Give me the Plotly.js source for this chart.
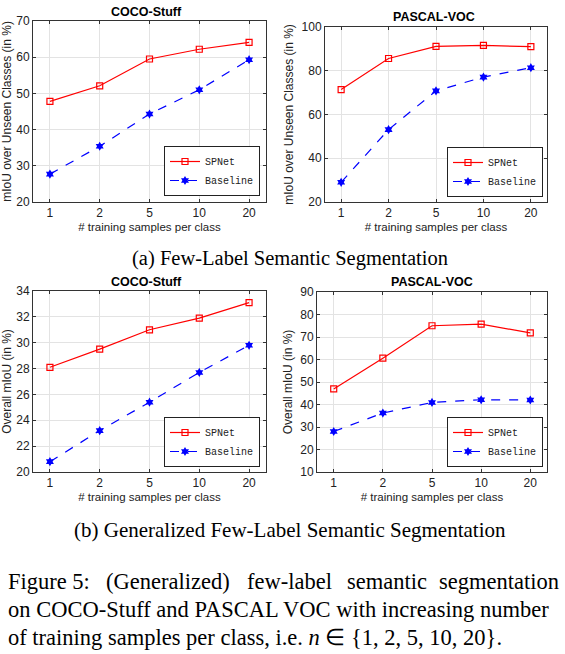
<!DOCTYPE html>
<html>
<head>
<meta charset="utf-8">
<script src="https://cdn.plot.ly/plotly-3.0.1.min.js"></script>
<style>
  body { margin: 0; background: #fff; }
  #plot { width: 565px; height: 654px; }
</style>
</head>
<body>
<div id="plot"></div>
<script>
// training samples per class
const samples = ['1', '2', '5', '10', '20']

// (a) mIoU over unseen classes
const cocoUnseenSPNet = [47.8, 52.1, 59.5, 62.2, 64.1]
const cocoUnseenBase = [27.7, 35.4, 44.3, 51.0, 59.3]
const vocUnseenSPNet = [71.4, 85.6, 91.1, 91.6, 91.0]
const vocUnseenBase = [29.0, 53.1, 70.8, 77.1, 81.4]

// (b) overall mIoU
const cocoAllSPNet = [28.1, 29.5, 31.0, 31.9, 33.1]
const cocoAllBase = [20.8, 23.2, 25.4, 27.7, 29.8]
const vocAllSPNet = [46.9, 60.6, 75.0, 75.7, 71.8]
const vocAllBase = [28.0, 36.2, 40.9, 42.1, 42.0]

const W = 565, H = 654
const px = v => v / W
const py = v => 1 - v / H

const sans = 'Liberation Sans, Arial, sans-serif'
const serif = 'Liberation Serif, Times New Roman, serif'
const mono = 'Liberation Mono, Courier New, monospace'

function pair (spnet, base, n) {
  const sfx = n === 1 ? '' : String(n)
  return [
    {
      x: samples, y: spnet, name: 'SPNet', type: 'scatter', mode: 'lines+markers',
      xaxis: 'x' + sfx, yaxis: 'y' + sfx, legend: 'legend' + sfx,
      line: { color: '#ff0000', width: 1.2 },
      marker: { symbol: 'square-open', size: 6, color: '#ff0000', line: { width: 1.2 } }
    },
    {
      x: samples, y: base, name: 'Baseline', type: 'scatter', mode: 'lines+markers',
      xaxis: 'x' + sfx, yaxis: 'y' + sfx, legend: 'legend' + sfx,
      line: { color: '#0000ff', width: 1.2, dash: 'dash' },
      marker: { symbol: 'hexagram', size: 7, color: '#0000ff' }
    }
  ]
}

const data = [
  ...pair(cocoUnseenSPNet, cocoUnseenBase, 1),
  ...pair(vocUnseenSPNet, vocUnseenBase, 2),
  ...pair(cocoAllSPNet, cocoAllBase, 3),
  ...pair(vocAllSPNet, vocAllBase, 4)
]

function xax (x0, x1, anchor) {
  return {
    domain: [px(x0), px(x1)], anchor: anchor, type: 'category',
    range: [-0.34, 4.34], showgrid: true, gridcolor: '#e3e3e3',
    showline: true, linecolor: '#333', linewidth: 1, mirror: 'ticks',
    ticks: 'inside', ticklen: 3, tickcolor: '#333',
    tickfont: { family: sans, size: 12, color: '#222' },
    title: { text: '# training samples per class', font: { family: sans, size: 11.5, color: '#222' }, standoff: 3 }
  }
}

function yax (y0, y1, anchor, range, dtick, title) {
  return {
    domain: [py(y1), py(y0)], anchor: anchor,
    range: range, dtick: dtick, showgrid: true, gridcolor: '#e3e3e3', zeroline: false,
    showline: true, linecolor: '#333', linewidth: 1, mirror: 'ticks',
    ticks: 'inside', ticklen: 3, tickcolor: '#333',
    tickfont: { family: sans, size: 12, color: '#222' },
    title: { text: title, font: { family: sans, size: 12, color: '#222' }, standoff: 5 }
  }
}

function leg (xr, yb) {
  return {
    x: px(xr), y: py(yb), xanchor: 'right', yanchor: 'bottom',
    bgcolor: '#fff', bordercolor: '#222', borderwidth: 1,
    font: { family: mono, size: 10, color: '#222' },
    itemwidth: 30, tracegroupgap: 0
  }
}

function note (text, x, y, font, extra) {
  return Object.assign({
    text: text, x: px(x), y: py(y), xref: 'paper', yref: 'paper',
    showarrow: false, font: font, xanchor: 'center', yanchor: 'middle'
  }, extra || {})
}

const titleFont = { family: sans, size: 12.5, color: '#000', weight: 'bold' }
const subFont = { family: serif, size: 20.5, color: '#000' }
const subFontB = { family: serif, size: 21, color: '#000' }
const capFont = { family: serif, size: 22.5, color: '#000' }
const left = { xanchor: 'left' }

const layout = {
  width: W, height: H,
  margin: { l: 0, r: 0, t: 0, b: 0 },
  paper_bgcolor: '#fff', plot_bgcolor: '#fff',
  xaxis: xax(33, 266, 'y'),
  yaxis: yax(21, 202, 'x', [20, 70], 10, 'mIoU over Unseen Classes (in %)'),
  xaxis2: xax(325, 547, 'y2'),
  yaxis2: yax(27, 202, 'x2', [20, 100], 20, 'mIoU over Unseen Classes (in %)'),
  xaxis3: xax(33, 266, 'y3'),
  yaxis3: yax(291, 472, 'x3', [20, 34], 2, 'Overall mIoU (in %)'),
  xaxis4: xax(317, 547, 'y4'),
  yaxis4: yax(292, 472, 'x4', [10, 90], 10, 'Overall mIoU (in %)'),
  legend: leg(260, 196),
  legend2: leg(543, 197),
  legend3: leg(260, 467),
  legend4: leg(543, 467),
  annotations: [
    note('<b>COCO-Stuff</b>', 146, 12, titleFont),
    note('<b>PASCAL-VOC</b>', 434, 17, titleFont),
    note('<b>COCO-Stuff</b>', 146, 282, titleFont),
    note('<b>PASCAL-VOC</b>', 432, 282, titleFont),
    note('(a) Few-Label Semantic Segmentation', 290, 258, subFont),
    note('(b) Generalized Few-Label Semantic Segmentation', 290, 530, subFontB),
    // first caption line is justified in the paper, so place its words one by one
    note('Figure 5:', 6, 581, capFont, left),
    note('(Generalized)', 104, 581, capFont, left),
    note('few-label', 245, 581, capFont, left),
    note('semantic', 345, 581, capFont, left),
    note('segmentation', 437, 581, capFont, left),
    note('on COCO-Stuff and PASCAL VOC with increasing number', 6, 609, capFont, left),
    note('of training samples per class, i.e. <i>n</i> \u2208 {1, 2, 5, 10, 20}.', 6, 637, capFont, left)
  ]
}

Plotly.newPlot('plot', data, layout, { displayModeBar: false, staticPlot: true })
</script>
</body>
</html>
